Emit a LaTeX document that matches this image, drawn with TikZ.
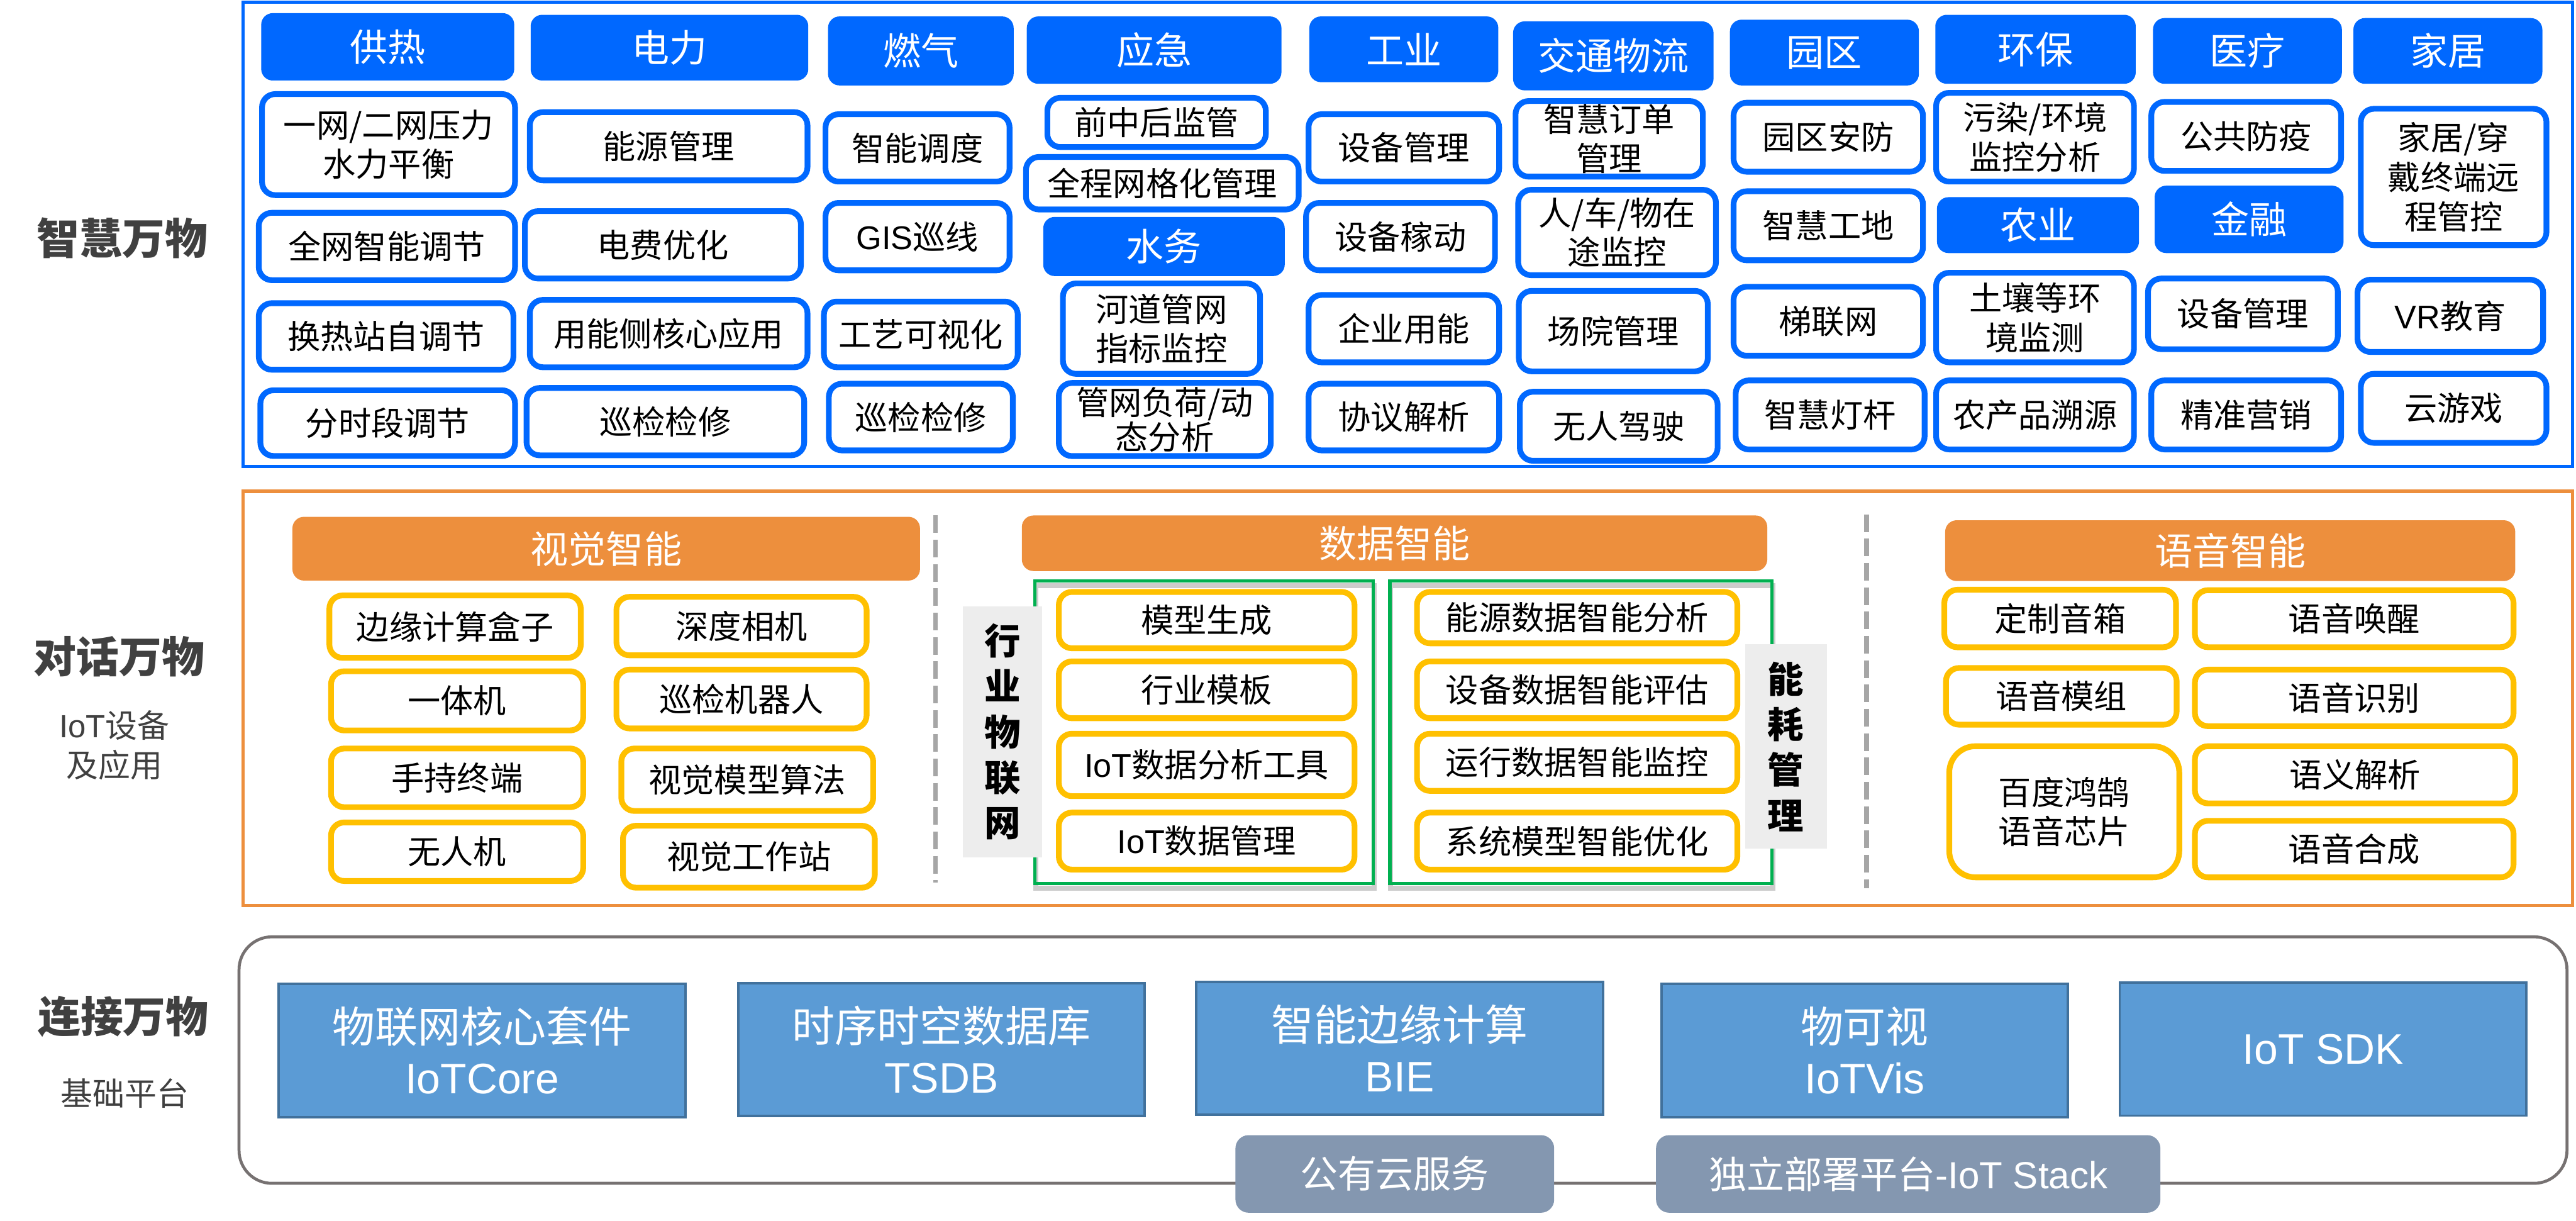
\documentclass[tikz,border=0pt]{standalone}
\usepackage{fontspec}
\setmainfont{Noto Sans CJK SC}
\newfontfamily\latinfont{Liberation Sans}
\definecolor{linkblue}{HTML}{0068FF}
\definecolor{talkorange}{HTML}{ED8F3D}
\definecolor{itemyellow}{HTML}{FFC000}
\definecolor{fieldgreen}{HTML}{00B050}
\definecolor{coreblue}{HTML}{5B9BD5}
\definecolor{coreedge}{HTML}{41719C}
\definecolor{cloudgrey}{HTML}{8497B0}
\definecolor{framegrey}{HTML}{767171}
\definecolor{titlegrey}{HTML}{404040}

\begin{document}
\begin{tikzpicture}[x=1pt,y=1pt,yscale=-1,xscale=1,
		headbox/.style={fill=linkblue,text=white,rounded corners=7pt,inner sep=0pt,font=\fontsize{23}{26}\selectfont},
		itembox/.style={draw=linkblue,fill=white,line width=3.5pt,rounded corners=8pt,inner sep=0pt,align=center,font=\fontsize{20}{24}\selectfont},
		yellowbox/.style={draw=itemyellow,fill=white,line width=3.5pt,rounded corners=8pt,inner sep=0pt,align=center,font=\fontsize{20}{24}\selectfont},
		orangehead/.style={fill=talkorange,text=white,rounded corners=7pt,inner sep=0pt,font=\fontsize{23}{26}\selectfont},
		fieldbox/.style={draw=fieldgreen,line width=2pt},
		fieldshadow/.style={draw=black!20,line width=3pt},
		greylabel/.style={fill=black!7,inner sep=0pt,align=center,font=\fontsize{22}{27.7}\selectfont\bfseries},
		corebox/.style={draw=coreedge,fill=coreblue,line width=1.5pt,text=white,minimum width=247.5pt,minimum height=81pt,inner sep=0pt,align=center,font=\fontsize{26}{31}\selectfont},
		cloudbox/.style={fill=cloudgrey,text=white,rounded corners=8pt,minimum height=47.2pt,inner sep=0pt,font=\fontsize{23}{26}\selectfont},
		titletext/.style={text=titlegrey,inner sep=0pt,font=\fontsize{26}{30}\selectfont\bfseries},
		subtext/.style={text=titlegrey,inner sep=0pt,align=center,font=\fontsize{19.5}{24}\selectfont},
		seqline/.style={draw=black!35,line width=3pt,dash pattern=on 10.7pt off 4.1pt}]
		\useasboundingbox (0,0) rectangle (1568,743);
		
		%Frames
		\node [draw=linkblue,line width=2pt,minimum width=1418pt,minimum height=282.7pt] (smartframe) at (857,142.6) {};
		\node [draw=talkorange,line width=2pt,minimum width=1418pt,minimum height=252pt] (talkframe) at (857,425) {};
		\node [draw=framegrey,line width=1.8pt,rounded corners=20pt,minimum width=1417pt,minimum height=150pt] (linkframe) at (854,645.1) {};
		
		% Text Node
		\node [titletext] (smarttitle) at (74.4,145) {智慧万物};
		\node [titletext] (talktitle) at (72.6,399.5) {对话万物};
		\node [subtext] (talksub) at (69.6,453.5) {{\latinfont IoT}设备\\及应用};
		\node [titletext] (linktitle) at (75,618.8) {连接万物};
		\node [subtext] (linksub) at (76,665.5) {基础平台};
		
		%Header boxes of the top band
		\node [headbox,minimum width=154pt,minimum height=41pt] (heat) at (236,28.5) {供热};
		\node [headbox,minimum width=169pt,minimum height=40pt] (power) at (407.5,29) {电力};
		\node [headbox,minimum width=113pt,minimum height=42pt] (gas) at (560.5,31) {燃气};
		\node [headbox,minimum width=155pt,minimum height=41pt] (rescue) at (702.5,30.5) {应急};
		\node [headbox,minimum width=115pt,minimum height=40pt] (industry) at (854.5,30) {工业};
		\node [headbox,minimum width=122pt,minimum height=42pt] (traffic) at (982,34) {交通物流};
		\node [headbox,minimum width=115pt,minimum height=40pt] (park) at (1110.5,32) {园区};
		\node [headbox,minimum width=122pt,minimum height=42pt] (green) at (1239,30) {环保};
		\node [headbox,minimum width=115pt,minimum height=40pt] (health) at (1368,31) {医疗};
		\node [headbox,minimum width=115pt,minimum height=40pt] (home) at (1490,31) {家居};
		\node [headbox,minimum width=147pt,minimum height=36pt] (water) at (708.5,150) {水务};
		\node [headbox,minimum width=123pt,minimum height=34pt] (farm) at (1240.5,137) {农业};
		\node [headbox,minimum width=115pt,minimum height=41pt] (bank) at (1369,133.5) {金融};
		
		%Column heat
		\node [itembox,minimum width=154pt,minimum height=61.5pt] (heata) at (236.5,88) {一网/二网压力\\水力平衡};
		\node [itembox,minimum width=156pt,minimum height=41pt] (heatb) at (235.5,150) {全网智能调节};
		\node [itembox,minimum width=155pt,minimum height=40.5pt] (heatc) at (235,204.75) {换热站自调节};
		\node [itembox,minimum width=155pt,minimum height=40pt] (heatd) at (236,257.5) {分时段调节};
		%Column power
		\node [itembox,minimum width=169pt,minimum height=41.5pt] (powera) at (407,89) {能源管理};
		\node [itembox,minimum width=168pt,minimum height=41pt] (powerb) at (403.5,149) {电费优化};
		\node [itembox,minimum width=169pt,minimum height=41pt] (powerc) at (407,203) {用能侧核心应用};
		\node [itembox,minimum width=169pt,minimum height=41pt] (powerd) at (405,256.6) {巡检检修};
		%Column gas
		\node [itembox,minimum width=112pt,minimum height=41pt] (gasa) at (558.5,90) {智能调度};
		\node [itembox,minimum width=112pt,minimum height=41pt] (gasb) at (558.5,144) {{\latinfont GIS}巡线};
		\node [itembox,minimum width=118pt,minimum height=40pt] (gasc) at (560.5,203.5) {工艺可视化};
		\node [itembox,minimum width=112pt,minimum height=40.6pt] (gasd) at (560.5,253.8) {巡检检修};
		%Column rescue and water
		\node [itembox,minimum width=133pt,minimum height=30pt] (rescuea) at (704,74.5) {前中后监管};
		\node [itembox,minimum width=166pt,minimum height=32pt] (rescueb) at (707.5,111.5) {全程网格化管理};
		\node [itembox,minimum width=120pt,minimum height=55pt] (watera) at (707,200) {河道管网\\指标监控};
		\node [itembox,minimum width=129pt,minimum height=44.5pt,font=\fontsize{20}{21}\selectfont] (waterb) at (709,255.3) {管网负荷/动\\态分析};
		%Column industry
		\node [itembox,minimum width=116pt,minimum height=41pt] (industrya) at (854.5,90) {设备管理};
		\node [itembox,minimum width=115pt,minimum height=41pt] (industryb) at (852.5,144) {设备稼动};
		\node [itembox,minimum width=116pt,minimum height=41pt] (industryc) at (854.5,200) {企业用能};
		\node [itembox,minimum width=116pt,minimum height=40.6pt] (industryd) at (854.5,253.8) {协议解析};
		%Column traffic
		\node [itembox,minimum width=114pt,minimum height=46pt] (traffica) at (979.5,84.5) {智慧订单\\管理};
		\node [itembox,minimum width=120.4pt,minimum height=52pt] (trafficb) at (984.3,141.5) {人/车/物在\\途监控};
		\node [itembox,minimum width=115pt,minimum height=49pt] (trafficc) at (982,201.5) {场院管理};
		\node [itembox,minimum width=120.4pt,minimum height=42pt] (trafficd) at (985.3,259.4) {无人驾驶};
		%Column park
		\node [itembox,minimum width=115.3pt,minimum height=42pt] (parka) at (1112.85,83.5) {园区安防};
		\node [itembox,minimum width=115.3pt,minimum height=42pt] (parkb) at (1112.85,137.4) {智慧工地};
		\node [itembox,minimum width=115.3pt,minimum height=42pt] (parkc) at (1112.85,195.5) {梯联网};
		\node [itembox,minimum width=115pt,minimum height=42pt] (parkd) at (1114,252.5) {智慧灯杆};
		%Column green and farm
		\node [itembox,minimum width=120.4pt,minimum height=54pt] (greena) at (1238.7,83.5) {污染/环境\\监控分析};
		\node [itembox,minimum width=120.4pt,minimum height=54.5pt] (farma) at (1238.7,193.25) {土壤等环\\境监测};
		\node [itembox,minimum width=120.4pt,minimum height=42pt] (farmb) at (1238.7,252.5) {农产品溯源};
		%Column health and bank
		\node [itembox,minimum width=115.5pt,minimum height=42pt] (healtha) at (1367.25,83) {公共防疫};
		\node [itembox,minimum width=115.5pt,minimum height=43pt] (banka) at (1365.25,191) {设备管理};
		\node [itembox,minimum width=115.5pt,minimum height=42pt] (bankb) at (1367.25,252.5) {精准营销};
		%Column home
		\node [itembox,minimum width=113pt,minimum height=83pt] (homea) at (1493.5,107.7) {家居/穿\\戴终端远\\程管控};
		\node [itembox,minimum width=113pt,minimum height=44pt] (homeb) at (1491.5,192.2) {{\latinfont VR}教育};
		\node [itembox,minimum width=113pt,minimum height=42pt] (homec) at (1493.5,248.5) {云游戏};
		
		%Straight Lines
		\coordinate (sepatop) at (569.4,313.7);
		\coordinate (sepabot) at (569.4,537);
		\coordinate (sepbtop) at (1136.3,313);
		\coordinate (sepbbot) at (1136.3,540.6);
		\draw [seqline] (sepatop) -- (sepabot);
		\draw [seqline] (sepbtop) -- (sepbbot);
		
		%Orange headers
		\node [orangehead,minimum width=382pt,minimum height=38.8pt] (vision) at (369,333.9) {视觉智能};
		\node [orangehead,minimum width=453.7pt,minimum height=33.8pt] (data) at (848.85,330.6) {数据智能};
		\node [orangehead,minimum width=347pt,minimum height=37pt] (voice) at (1357.5,335.1) {语音智能};
		
		%Column vision
		\node [yellowbox,minimum width=153pt,minimum height=38pt] (visiona) at (277,381.35) {边缘计算盒子};
		\node [yellowbox,minimum width=153.5pt,minimum height=36pt] (visionb) at (278.25,426.5) {一体机};
		\node [yellowbox,minimum width=153.5pt,minimum height=35.7pt] (visionc) at (278.25,473.35) {手持终端};
		\node [yellowbox,minimum width=153.5pt,minimum height=35.6pt] (visiond) at (278.25,518.3) {无人机};
		\node [yellowbox,minimum width=152.3pt,minimum height=35.6pt] (visione) at (451.35,381) {深度相机};
		\node [yellowbox,minimum width=152.3pt,minimum height=35.8pt] (visionf) at (451.35,425.4) {巡检机器人};
		\node [yellowbox,minimum width=153.3pt,minimum height=38pt] (visiong) at (454.85,474.5) {视觉模型算法};
		\node [yellowbox,minimum width=153.3pt,minimum height=37.7pt] (visionh) at (455.85,521.35) {视觉工作站};
		
		%Shape: green fields with their shadows
		\node [fieldshadow,minimum width=206pt,minimum height=184pt] (fieldashadow) at (733.5,448.5) {};
		\node [fieldshadow,minimum width=232.7pt,minimum height=184pt] (fieldbshadow) at (962.85,448.5) {};
		\node [fieldbox,minimum width=206pt,minimum height=184pt] (fielda) at (733,445.6) {};
		\node [fieldbox,minimum width=232.7pt,minimum height=184pt] (fieldb) at (962.35,445.6) {};
		\node [greylabel,minimum width=48.4pt,minimum height=152.6pt] (fieldatag) at (610.2,445.3) {行\\业\\物\\联\\网};
		\node [greylabel,minimum width=49.8pt,minimum height=124.6pt] (fieldbtag) at (1087,454.3) {能\\耗\\管\\理};
		
		%Column data
		\node [yellowbox,minimum width=180pt,minimum height=34.3pt] (dataa) at (734.5,377.35) {模型生成};
		\node [yellowbox,minimum width=180pt,minimum height=34.6pt] (datab) at (734.5,419.8) {行业模板};
		\node [yellowbox,minimum width=180pt,minimum height=38pt] (datac) at (734.5,465.5) {{\latinfont IoT}数据分析工具};
		\node [yellowbox,minimum width=180pt,minimum height=34.7pt] (datad) at (734.5,511.85) {{\latinfont IoT}数据管理};
		\node [yellowbox,minimum width=195pt,minimum height=31.3pt] (datae) at (960,375.85) {能源数据智能分析};
		\node [yellowbox,minimum width=195pt,minimum height=34.6pt] (dataf) at (960,419.8) {设备数据智能评估};
		\node [yellowbox,minimum width=195pt,minimum height=34.8pt] (datag) at (960,463.9) {运行数据智能监控};
		\node [yellowbox,minimum width=195pt,minimum height=34.7pt] (datah) at (960,511.85) {系统模型智能优化};
		
		%Column voice
		\node [yellowbox,minimum width=141pt,minimum height=35pt] (voicea) at (1254,376.4) {定制音箱};
		\node [yellowbox,minimum width=140.4pt,minimum height=34.5pt] (voiceb) at (1254.7,423.75) {语音模组};
		\node [yellowbox,minimum width=140pt,minimum height=79.8pt,rounded corners=16pt] (voicec) at (1256.5,494) {百度鸿鹄\\语音芯片};
		\node [yellowbox,minimum width=194pt,minimum height=34.7pt] (voiced) at (1433,376.5) {语音唤醒};
		\node [yellowbox,minimum width=194pt,minimum height=34.4pt] (voicee) at (1433,424.7) {语音识别};
		\node [yellowbox,minimum width=195pt,minimum height=34.8pt] (voicef) at (1433.5,471.5) {语义解析};
		\node [yellowbox,minimum width=194pt,minimum height=34.4pt] (voiceg) at (1433,516.7) {语音合成};
		
		%Shape: platform boxes
		\node [corebox] (corea) at (293.5,639.25) {物联网核心套件\\{\latinfont IoTCore}};
		\node [corebox] (coreb) at (573,638.75) {时序时空数据库\\{\latinfont TSDB}};
		\node [corebox] (corec) at (852,638) {智能边缘计算\\{\latinfont BIE}};
		\node [corebox] (cored) at (1135,639.25) {物可视\\{\latinfont IoTVis}};
		\node [corebox] (coree) at (1414,638.4) {{\latinfont IoT SDK}};
		
		%Shape: cloud boxes
		\node [cloudbox,minimum width=194pt] (cloudpub) at (849,714.4) {公有云服务};
		\node [cloudbox,minimum width=307pt] (cloudown) at (1161.5,714.4) {独立部署平台{\latinfont -IoT Stack}};
		
\end{tikzpicture}
\end{document}
